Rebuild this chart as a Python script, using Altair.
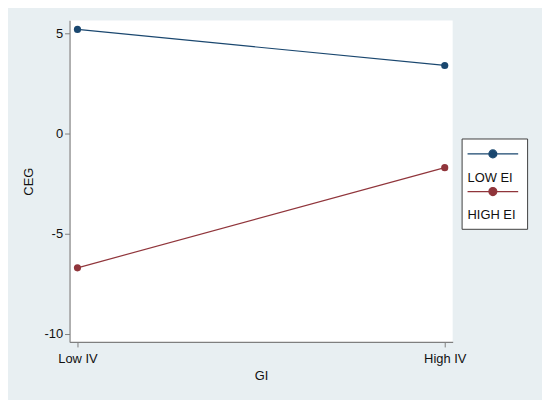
import pandas as pd
import altair as alt

# data
gi_labels = ["Low IV", "High IV"]
gi_pos = [0, 1]
low_ei = [5.2, 3.4]
high_ei = [-6.7, -1.7]
groups = ["LOW EI", "HIGH EI"]
colors = ["#1a476f", "#90353b"]

df = pd.DataFrame({
    "gi": gi_pos * 2,
    "ceg": low_ei + high_ei,
    "group": [groups[0]] * 2 + [groups[1]] * 2,
})

label_expr = "datum.value == 0 ? '%s' : '%s'" % (gi_labels[0], gi_labels[1])

# legend key: a line with a dot, drawn above the label
# symbolSize 4 -> path units are pixels, symbol centre sits 6.5px right of the label start
key_path = ("M-6.5,-24L44.5,-24 "
            "M23,-24A4,4 0 1,1 15,-24A4,4 0 1,1 23,-24Z")

x = alt.X("gi:Q", title="GI",
          scale=alt.Scale(domain=[-0.0216, 1.0216], nice=False, zero=False),
          axis=alt.Axis(values=gi_pos, labelExpr=label_expr, grid=False))
y = alt.Y("ceg:Q", title="CEG",
          scale=alt.Scale(domain=[-10.4, 5.65], nice=False, zero=False),
          axis=alt.Axis(values=[-10, -5, 0, 5], labelExpr="'' + datum.value", grid=False))
# blank title only reserves room for the first key inside the box
color = alt.Color("group:N", scale=alt.Scale(domain=groups, range=colors),
                  legend=alt.Legend(title=" ", titleFontSize=14, titlePadding=13,
                                    orient="none", legendX=395, legendY=119,
                                    symbolType=key_path, symbolSize=4,
                                    symbolStrokeWidth=1.2,
                                    labelOffset=alt.ExprRef("-13"),
                                    rowPadding=0, padding=6,
                                    strokeColor="#404040", fillColor="white",
                                    labelFontSize=13, labelColor="#111111"))

lines = alt.Chart(df).mark_line(strokeWidth=1.2).encode(x=x, y=y, color=color)
dots = alt.Chart(df).mark_circle(size=52, opacity=1).encode(x=x, y=y, color=color)

chart = alt.layer(lines, dots).properties(
    width=386, height=324,
    autosize=alt.AutoSizeParams(type="none"),
    padding={"left": 62, "top": 11, "right": 90, "bottom": 57},
    background="#e8eff2",
).configure_view(
    fill="white", stroke=None
).configure_axis(
    labelFont="Liberation Sans", titleFont="Liberation Sans",
    labelFontSize=13, titleFontSize=13, titleFontWeight="normal",
    labelColor="#111111", titleColor="#111111",
    domainColor="#7f7f7f", tickColor="#7f7f7f", domainWidth=1.2,
    tickSize=5, labelPadding=2,
).configure_axisY(
    titlePadding=9
).configure_axisX(
    labelPadding=6, titlePadding=4
).configure_legend(
    labelFont="Liberation Sans", titleFont="Liberation Sans"
)

chart.save("out.html", embed_options={"renderer": "svg", "actions": False})
